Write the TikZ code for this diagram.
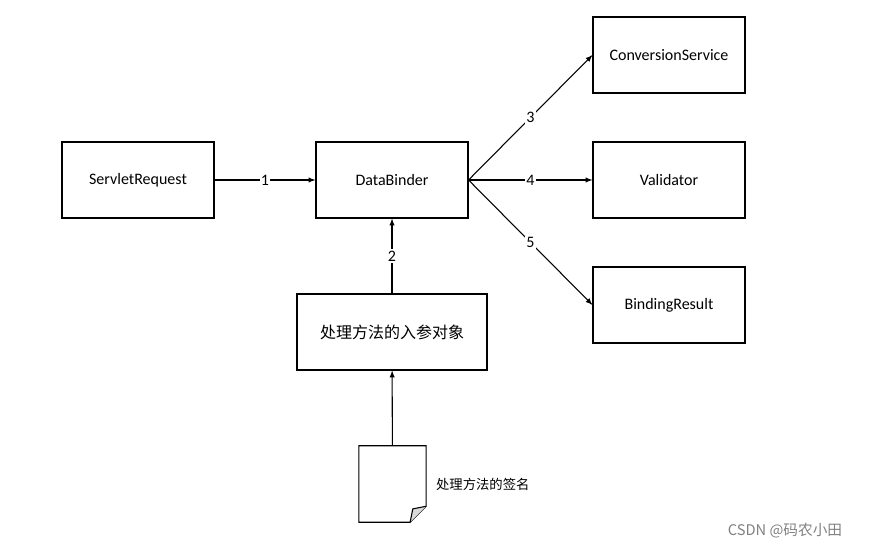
\documentclass[tikz,border=0pt]{standalone}
\usepackage{fontspec}
\setmainfont{Carlito}
\newfontfamily\cjk{Noto Sans CJK SC}
\usetikzlibrary{positioning}
\tikzset{
	box/.style={draw,thick,fill=white,minimum width=114pt,minimum height=57pt,inner sep=0pt},
	arr/.style={->,thick,>=latex},
	num/.style={fill=white,inner sep=1pt}
}
\begin{document}
\begin{tikzpicture}[x=0.75pt,y=-0.75pt,font=\fontsize{12}{14}\selectfont]
	\useasboundingbox (0,0) rectangle (875,548);
	% boxes
	\node[box] (req) at (138,180) {ServletRequest};
	\node[box] (binder) at (392,180) {DataBinder};
	\node[box] (conv) at (669,55) {ConversionService};
	\node[box] (valid) at (669,180) {Validator};
	\node[box] (result) at (669,305) {BindingResult};
	\node[box,minimum width=142.5pt] (param) at (392,332) {\cjk 处理方法的入参对象};

	% the signature document
	\node[minimum width=50pt,minimum height=57pt,inner sep=0pt] (doc) at (392.5,484) {};
	\draw[thick,fill=white] (doc.north west) -- (doc.north east) -- ([yshift=12pt]doc.south east)
		-- ([xshift=-12pt]doc.south east) -- (doc.south west) -- cycle;
	\draw[thick,fill=gray!30] ([xshift=-12pt]doc.south east) -- ([xshift=-10pt,yshift=10pt]doc.south east)
		-- ([yshift=12pt]doc.south east);
	\node[right=4pt of doc,font=\cjk] (sig) {处理方法的签名};

	% connectors
	\draw[arr] (req) -- node[num] {1} (binder);
	\draw[arr] (param) -- node[num] {2} (binder);
	\draw[arr] (doc) -- (param);
	\draw[arr] (binder.east) -- node[num] {3} (conv.west);
	\draw[arr] (binder.east) -- node[num] {4} (valid.west);
	\draw[arr] (binder.east) -- node[num] {5} (result.west);

	\node[text=gray,font=\cjk\fontsize{11}{13}\selectfont] (mark) at (785,531) {CSDN @码农小田};
\end{tikzpicture}
\end{document}
